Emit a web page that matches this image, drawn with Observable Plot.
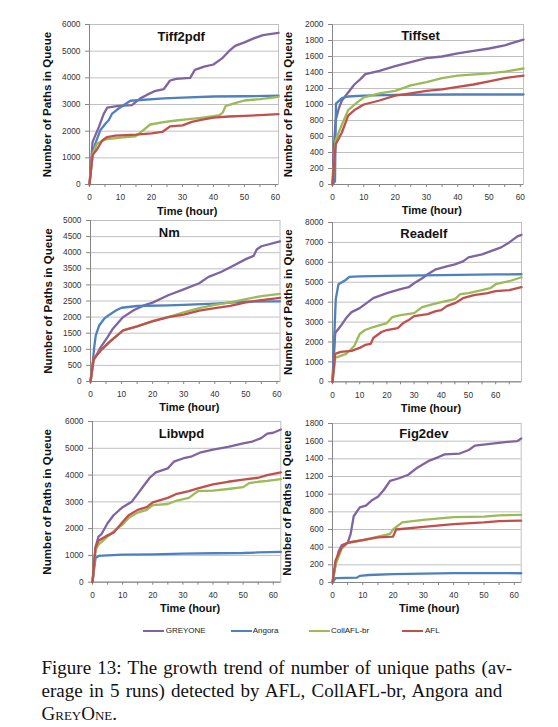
<!DOCTYPE html>
<html><head><meta charset="utf-8">
<script src="https://cdn.jsdelivr.net/npm/d3@7"></script>
<script src="https://cdn.jsdelivr.net/npm/@observablehq/plot@0.6"></script>
<style>
body{margin:0;background:#fff;}
#root{position:relative;width:558px;height:727px;overflow:hidden;background:#fff;}
.panel{position:absolute;}
.panel svg{overflow:visible;}
.leg-line{position:absolute;height:2px;}
.leg-text{position:absolute;font:8px "Liberation Sans",Arial,sans-serif;color:#222;line-height:10px;}
.cap{position:absolute;left:41.5px;font:19px/23px "Liberation Serif","Times New Roman",serif;color:#111;white-space:nowrap;word-spacing:1.5px;}
.sc{font-variant:small-caps;}
</style></head><body><div id="root"></div>
<script>
const seriesNames = ["GREYONE", "Angora", "CollAFL-br", "AFL"];
const seriesColors = ["#8064A2", "#4F81BD", "#9BBB59", "#C0504D"];
const programNames = ["Tiff2pdf", "Tiffset", "Nm", "Readelf", "Libwpd", "Fig2dev"];
const xLabel = "Time (hour)";
const yLabel = "Number of Paths in Queue";
const yMaxes = [6000, 2000, 5000, 8000, 6000, 1800];
const ySteps = [1000, 200, 500, 1000, 1000, 200];
const xMaxes = [61, 61, 61, 69.5, 62.5, 62.3];

// [hour, paths]
const tiff2pdfGreyone = [[0,0],[1,1600],[3,2150],[4.6,2650],[5.7,2880],[9.4,2950],[13.7,2980],[16.4,3230],[18.5,3360],[21,3500],[24,3580],[26,3900],[28,3960],[32.5,4000],[34,4300],[37,4420],[40,4500],[43,4750],[45,5000],[47,5200],[50,5330],[53,5480],[56,5600],[61,5690]];
const tiff2pdfAngora = [[0,0],[1,1160],[1.9,1540],[3.5,2040],[5.2,2290],[6.2,2410],[7.3,2660],[9.4,2850],[13.2,3140],[24,3230],[30,3260],[40,3300],[50,3310],[61,3330]];
const tiff2pdfCollafl = [[0,0],[1,1160],[2.5,1540],[5.2,1690],[10,1760],[14.8,1810],[15.9,1900],[19.6,2250],[24.4,2350],[28,2400],[32,2450],[36,2500],[40,2560],[42,2600],[43,2700],[44,2950],[47,3050],[50,3150],[55,3200],[61,3290]];
const tiff2pdfAfl = [[0,0],[1,1100],[2.5,1330],[4.1,1650],[5.7,1780],[8.3,1830],[15,1870],[20,1920],[23.5,1970],[26,2180],[30,2220],[33,2350],[36,2420],[40,2510],[45,2550],[50,2570],[55,2600],[61,2640]];

const tiffsetGreyone = [[0,0],[0.5,500],[1,800],[2,950],[3,1050],[5,1150],[7,1250],[9,1320],[10.5,1380],[15,1420],[20,1480],[25,1530],[30,1580],[35,1600],[40,1640],[45,1670],[50,1700],[55,1740],[61,1810]];
const tiffsetAngora = [[0,0],[0.8,40],[1.1,1010],[3,1080],[5,1100],[10,1110],[20,1120],[40,1125],[61,1125]];
const tiffsetCollafl = [[0,0],[1,550],[3,750],[5,930],[8,1030],[10,1090],[15,1140],[20,1170],[25,1240],[30,1280],[35,1330],[40,1360],[50,1390],[55,1410],[61,1450]];
const tiffsetAfl = [[0,0],[1,500],[3,650],[5,860],[7,930],[10,1000],[15,1050],[20,1110],[25,1140],[30,1170],[35,1190],[40,1220],[45,1250],[50,1290],[55,1330],[61,1360]];

const nmGreyone = [[0,0],[1,654],[3.3,1070],[5.5,1380],[7.2,1640],[10.5,2000],[13.9,2210],[17.2,2365],[20,2450],[25,2680],[30,2860],[35,3050],[38,3250],[42,3400],[45,3550],[50,3800],[52.5,3900],[53.5,4100],[55,4200],[61,4350]];
const nmAngora = [[0,0],[0.8,654],[1.2,1070],[1.7,1430],[2.8,1740],[4.4,1950],[6.1,2075],[8.3,2210],[10,2290],[15,2345],[25,2365],[30,2380],[40,2420],[50,2480],[61,2490]];
const nmCollafl = [[0,0],[1,700],[3.3,970],[6,1230],[10.5,1590],[15,1710],[20,1880],[25,2000],[30,2150],[35,2280],[40,2380],[45,2460],[50,2560],[55,2650],[61,2720]];
const nmAfl = [[0,0],[1,700],[3.3,965],[6.1,1225],[10.5,1590],[15,1710],[19.4,1850],[25,2000],[30,2080],[35,2200],[40,2280],[45,2350],[50,2460],[55,2530],[61,2600]];

const readelfGreyone = [[0,0],[1,2450],[3,2800],[5,3200],[7,3500],[10,3700],[13,4000],[15,4200],[20,4450],[25,4650],[28,4750],[30,4950],[33,5200],[35,5400],[38,5650],[42,5800],[45,5900],[48,6050],[50,6250],[55,6400],[58,6550],[62,6750],[65,7000],[68,7300],[69.5,7380]];
const readelfAngora = [[0,0],[1.2,4150],[2.2,4900],[4.7,5100],[6.2,5270],[10,5290],[20,5320],[40,5360],[60,5390],[69.5,5400]];
const readelfCollafl = [[0,0],[1,1200],[3,1300],[5,1400],[8,1800],[10,2400],[12,2600],[15,2750],[20,2950],[22,3250],[25,3350],[30,3450],[33,3750],[37,3900],[40,4000],[45,4150],[47,4400],[50,4450],[55,4600],[58,4700],[60,4900],[65,5050],[69.5,5250]];
const readelfAfl = [[0,0],[1,1400],[3,1500],[7,1550],[10,1700],[12,1850],[14,1900],[15,2200],[18,2500],[20,2600],[24,2700],[26,2950],[28,3100],[30,3300],[35,3400],[38,3550],[40,3600],[42,3800],[45,3950],[48,4200],[52,4350],[57,4450],[60,4550],[65,4600],[69.5,4750]];

const libwpdGreyone = [[0,0],[1,1300],[2,1700],[3,1800],[5,2200],[7,2500],[10,2800],[13,3000],[15,3300],[17,3600],[19,3900],[21,4100],[25,4250],[27,4500],[30,4620],[33,4700],[36,4850],[40,4950],[45,5050],[50,5180],[53,5250],[56,5380],[58,5550],[60,5580],[62.5,5700]];
const libwpdAngora = [[0,0],[1,900],[2,980],[5,1000],[10,1030],[20,1040],[30,1070],[40,1080],[50,1090],[55,1110],[62.5,1130]];
const libwpdCollafl = [[0,0],[1,1200],[2,1400],[5,1700],[7,1900],[10,2150],[12,2400],[15,2600],[18,2700],[20,2880],[25,2920],[28,3050],[32,3150],[35,3400],[40,3420],[45,3480],[50,3550],[52,3700],[55,3750],[58,3780],[62.5,3850]];
const libwpdAfl = [[0,0],[1,1300],[2,1550],[5,1750],[7,1850],[10,2250],[12,2500],[15,2700],[18,2800],[20,2980],[25,3150],[28,3300],[32,3400],[35,3500],[40,3650],[45,3750],[50,3830],[55,3900],[58,4000],[62.5,4100]];

const fig2devGreyone = [[0,0],[1,200],[2,350],[3,420],[5,450],[6,550],[7,750],[9,850],[11,870],[13,930],[15,970],[17,1050],[19,1150],[22,1180],[25,1220],[28,1300],[32,1380],[35,1420],[37,1450],[42,1460],[45,1500],[47,1550],[52,1570],[57,1590],[61,1600],[62.3,1630]];
const fig2devAngora = [[0,0],[1,50],[8,55],[9,75],[12,85],[20,95],[30,100],[40,105],[62.3,105]];
const fig2devCollafl = [[0,0],[1,200],[3,380],[5,450],[10,480],[15,520],[19,550],[20,600],[23,680],[30,710],[40,740],[50,745],[55,760],[62.3,765]];
const fig2devAfl = [[0,0],[1,250],[3,400],[5,450],[10,480],[15,510],[20,520],[21,600],[30,630],[40,660],[50,680],[55,695],[62.3,700]];

const programSeries = [
  [tiff2pdfGreyone, tiff2pdfAngora, tiff2pdfCollafl, tiff2pdfAfl],
  [tiffsetGreyone, tiffsetAngora, tiffsetCollafl, tiffsetAfl],
  [nmGreyone, nmAngora, nmCollafl, nmAfl],
  [readelfGreyone, readelfAngora, readelfCollafl, readelfAfl],
  [libwpdGreyone, libwpdAngora, libwpdCollafl, libwpdAfl],
  [fig2devGreyone, fig2devAngora, fig2devCollafl, fig2devAfl]
];

// layout (pixels)
const boxes = [
  {x0: 89, x1: 278, yTop: 24, yBot: 184, title: [180.7, 40], xl: [186.7, 214], yl: 50.5},
  {x0: 332, x1: 523, yTop: 24, yBot: 184, title: [420, 39.3], xl: [431.3, 213], yl: 291},
  {x0: 89.5, x1: 279, yTop: 220, yBot: 381, title: [168.3, 236], xl: [188.3, 410.7], yl: 50.5},
  {x0: 332, x1: 521, yTop: 221.7, yBot: 381, title: [423.3, 236.7], xl: [430.5, 410.7], yl: 291},
  {x0: 91.7, x1: 280, yTop: 421, yBot: 581.7, title: [180.7, 437], xl: [189.3, 611], yl: 50.5},
  {x0: 332.3, x1: 521, yTop: 422.7, yBot: 581.7, title: [423.7, 437], xl: [429, 611], yl: 291}
];

const root = document.getElementById("root");
const FONT = "'Liberation Sans', Arial, sans-serif";

programNames.forEach((name, pi) => {
  const b = boxes[pi];
  const left = b.x0 - 62, top = b.yTop - 14;
  const width = Math.ceil(b.x1 + 8 - left), height = Math.ceil(b.yBot + 36 - top);
  const mL = b.x0 - left, mT = b.yTop - top, mR = width - (b.x1 - left), mB = height - (b.yBot - top);
  const rows = programSeries[pi].flatMap((s, i) => s.map(([t, v]) => ({t, v, k: seriesNames[i]})));
  const yTicks = d3.range(0, yMaxes[pi] + 1, ySteps[pi]);
  const xTicks = d3.range(0, xMaxes[pi] + 0.001, 5);
  const chart = Plot.plot({
    width, height, marginLeft: mL, marginRight: mR, marginTop: mT, marginBottom: mB,
    style: {background: "transparent", fontFamily: FONT, overflow: "visible"},
    x: {domain: [0, xMaxes[pi]], axis: null},
    y: {domain: [0, yMaxes[pi]], axis: null},
    color: {domain: seriesNames, range: seriesColors},
    marks: [
      Plot.ruleY(yTicks, {stroke: "#c0c0c0", strokeWidth: 1}),
      Plot.frame({stroke: "#c0c0c0"}),
      Plot.ruleX([0], {stroke: "#868686"}),
      Plot.ruleY([0], {stroke: "#868686"}),
      Plot.axisY(yTicks, {tickSize: 4, tickPadding: 5, fontSize: 8.3, tickFormat: d => String(d), stroke: "#868686", fill: "#333", label: null}),
      Plot.axisX(xTicks, {tickSize: 3, tickPadding: 7, fontSize: 8.3, tickFormat: d => d % 10 === 0 ? String(d) : "", stroke: "#868686", fill: "#333", label: null}),
      Plot.line(rows, {x: "t", y: "v", stroke: "k", z: "k", strokeWidth: 2.3}),
      Plot.text([name], {frameAnchor: "top-left", dx: b.title[0] - b.x0, dy: b.title[1] - b.yTop, textAnchor: "middle", lineAnchor: "bottom", fontSize: 13, fontWeight: "bold", fill: "#111"}),
      Plot.text([xLabel], {frameAnchor: "bottom-left", dx: b.xl[0] - b.x0, dy: b.xl[1] - b.yBot, textAnchor: "middle", lineAnchor: "bottom", fontSize: 11, fontWeight: "bold", fill: "#111"}),
      Plot.text([yLabel], {frameAnchor: "left", dx: b.yl - b.x0, rotate: -90, textAnchor: "middle", lineAnchor: "bottom", fontSize: 11.6, fontWeight: "bold", fill: "#111"})
    ]
  });
  const div = document.createElement("div");
  div.className = "panel";
  div.style.left = left + "px";
  div.style.top = top + "px";
  div.appendChild(chart);
  root.appendChild(div);
});

// legend
const legendLines = [[142.7, 165.7], [230.5, 252.7], [308.5, 331], [401.7, 425]];
seriesNames.forEach((n, i) => {
  const ln = document.createElement("div");
  ln.className = "leg-line";
  ln.style.left = legendLines[i][0] + "px";
  ln.style.width = "21px";
  ln.style.top = "630px";
  ln.style.background = seriesColors[i];
  root.appendChild(ln);
  const tx = document.createElement("div");
  tx.className = "leg-text";
  tx.style.left = legendLines[i][1] + "px";
  tx.style.top = "626px";
  tx.textContent = n;
  root.appendChild(tx);
});

// caption
const cap = document.createElement("div");
cap.className = "cap";
cap.style.top = "656px";
cap.innerHTML = '<div>Figure 13: The growth trend of number of unique paths (av-</div>' +
  '<div>erage in 5 runs) detected by AFL, CollAFL-br, Angora and</div>' +
  '<div><span class="sc">GreyOne</span>.</div>';
root.appendChild(cap);
</script>
</body></html>
